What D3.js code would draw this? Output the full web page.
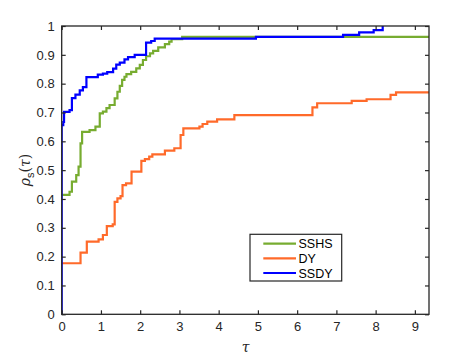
<!DOCTYPE html>
<html><head><meta charset="utf-8">
<script src="https://cdn.jsdelivr.net/npm/d3@7"></script>
<style>html,body{margin:0;padding:0;background:#fff;}svg{display:block;}</style>
</head><body>
<svg id="chart" width="474" height="355"></svg>
<script>
const seriesNames = ["SSHS", "DY", "SSDY"];
const seriesColors = ["#77AC30", "#FF6A2A", "#0000FF"];

const tauSSHS = [0, 0.20, 0.26, 0.37, 0.43, 0.48, 0.52, 0.71, 0.86, 0.97, 1.05, 1.14, 1.22, 1.35, 1.42, 1.48, 1.54, 1.60, 1.65, 1.77, 1.90, 1.99, 2.07, 2.15, 2.25, 2.33, 2.46, 2.63, 2.74, 2.80, 3.07, 9.36];
const rhoSSHS = [0.414, 0.425, 0.46, 0.483, 0.512, 0.593, 0.633, 0.639, 0.651, 0.697, 0.703, 0.715, 0.726, 0.749, 0.772, 0.792, 0.813, 0.824, 0.833, 0.841, 0.853, 0.865, 0.882, 0.895, 0.905, 0.914, 0.926, 0.937, 0.946, 0.954, 0.962, 0.962];

const tauDY = [0, 0.48, 0.64, 0.94, 1.05, 1.15, 1.30, 1.35, 1.42, 1.50, 1.55, 1.64, 1.78, 2.03, 2.12, 2.23, 2.31, 2.63, 2.87, 3.03, 3.10, 3.51, 3.59, 3.71, 3.96, 4.40, 6.39, 6.51, 7.39, 7.77, 8.38, 8.52, 9.36];
const rhoDY = [0.177, 0.214, 0.252, 0.260, 0.275, 0.306, 0.312, 0.390, 0.402, 0.410, 0.448, 0.454, 0.495, 0.532, 0.538, 0.547, 0.555, 0.568, 0.576, 0.622, 0.645, 0.651, 0.660, 0.668, 0.676, 0.691, 0.718, 0.732, 0.740, 0.746, 0.761, 0.770, 0.770];

const tauSSDY = [0, 0, 0.04, 0.06, 0.20, 0.26, 0.35, 0.46, 0.54, 0.63, 0.92, 1.05, 1.16, 1.31, 1.39, 1.48, 1.60, 1.69, 1.86, 2.15, 2.28, 2.37, 4.95, 7.17, 7.58, 7.95, 8.18];
const rhoSSDY = [0, 0.656, 0.667, 0.702, 0.708, 0.750, 0.762, 0.777, 0.788, 0.823, 0.831, 0.835, 0.840, 0.852, 0.866, 0.873, 0.884, 0.892, 0.900, 0.942, 0.948, 0.956, 0.962, 0.969, 0.978, 0.986, 1.0];

const xTicks = [0,1,2,3,4,5,6,7,8,9];
const yTicks = [0,0.1,0.2,0.3,0.4,0.5,0.6,0.7,0.8,0.9,1];
const xMax = 9.36;

const svg = d3.select("#chart");
const L = 61.7, R = 429, T = 26, B = 314.3;
const x = d3.scaleLinear().domain([0, xMax]).range([L, R]);
const y = d3.scaleLinear().domain([0, 1]).range([B, T]);
const axisColor = "#262626";
const font = "'Liberation Sans', Arial, sans-serif";

const allSeries = [
  {name: seriesNames[0], color: seriesColors[0], tau: tauSSHS, rho: rhoSSHS},
  {name: seriesNames[1], color: seriesColors[1], tau: tauDY, rho: rhoDY},
  {name: seriesNames[2], color: seriesColors[2], tau: tauSSDY, rho: rhoSSDY}
];

const line = d3.line().x(d => x(d[0])).y(d => y(d[1])).curve(d3.curveStepAfter);
const clip = svg.append("clipPath").attr("id","clip").append("rect")
  .attr("x", L).attr("y", T - 2).attr("width", R - L).attr("height", B - T + 4);

const lines = svg.append("g").attr("clip-path","url(#clip)");
allSeries.forEach(s => {
  const pts = s.tau.map((t, i) => [t, s.rho[i]]);
  lines.append("path").attr("d", line(pts)).attr("fill","none")
    .attr("stroke", s.color).attr("stroke-width", 2.2).attr("stroke-linejoin","miter");
});

// axes
const tl = 4;
const xAxisB = d3.axisBottom(x).tickValues(xTicks).tickSizeInner(-tl).tickSizeOuter(0).tickPadding(7).tickFormat(d3.format("d"));
const xAxisT = d3.axisTop(x).tickValues(xTicks).tickSizeInner(-tl).tickSizeOuter(0).tickFormat("");
const yAxisL = d3.axisLeft(y).tickValues(yTicks).tickSizeInner(-tl).tickSizeOuter(0).tickPadding(7).tickFormat(d => d === 0 || d === 1 ? d3.format("d")(d) : d3.format(".1f")(d));
const yAxisR = d3.axisRight(y).tickValues(yTicks).tickSizeInner(-tl).tickSizeOuter(0).tickFormat("");

function style(g) {
  g.select(".domain").remove();
  g.selectAll(".tick line").attr("stroke", axisColor).attr("stroke-width", 1.2);
  g.selectAll(".tick text").attr("fill", axisColor).style("font-family", font).style("font-size", "13px");
}
svg.append("g").attr("transform", `translate(0,${B})`).call(xAxisB).call(style);
svg.append("g").attr("transform", `translate(0,${T})`).call(xAxisT).call(style);
svg.append("g").attr("transform", `translate(${L},0)`).call(yAxisL).call(style);
svg.append("g").attr("transform", `translate(${R},0)`).call(yAxisR).call(style);

svg.append("rect").attr("x", L).attr("y", T).attr("width", R - L).attr("height", B - T)
  .attr("fill","none").attr("stroke", axisColor).attr("stroke-width", 1.3);

// axis labels
svg.append("text").attr("x", 245.7).attr("y", 352).attr("text-anchor","middle")
  .style("font-family","'DejaVu Serif', 'Liberation Serif', serif").style("font-style","italic")
  .style("font-size","14px").attr("fill", axisColor).text("τ");

const yl = svg.append("text").attr("transform", "translate(30,170) rotate(-90)")
  .attr("text-anchor","middle").attr("fill", axisColor)
  .style("font-family","'DejaVu Serif', 'Liberation Serif', serif").style("font-size","14px");
yl.append("tspan").style("font-style","italic").text("ρ");
yl.append("tspan").attr("dy", 4).style("font-family", font).style("font-size","11px").text("s");
yl.append("tspan").attr("dy", -4).text("(");
yl.append("tspan").style("font-style","italic").text("τ");
yl.append("tspan").text(")");

// legend
const lg = svg.append("g");
lg.append("rect").attr("x", 250).attr("y", 234.3).attr("width", 91.7).attr("height", 46.7)
  .attr("fill","#fff").attr("stroke", axisColor).attr("stroke-width", 1.2);
allSeries.forEach((s, i) => {
  const yy = 243.7 + i * 14.65;
  lg.append("line").attr("x1", 263.3).attr("x2", 296).attr("y1", yy).attr("y2", yy)
    .attr("stroke", s.color).attr("stroke-width", 2.2);
  lg.append("text").attr("x", 298.5).attr("y", yy + 4.5).attr("fill", "#000")
    .style("font-family", font).style("font-size","12.5px").text(s.name);
});
</script>
</body></html>
